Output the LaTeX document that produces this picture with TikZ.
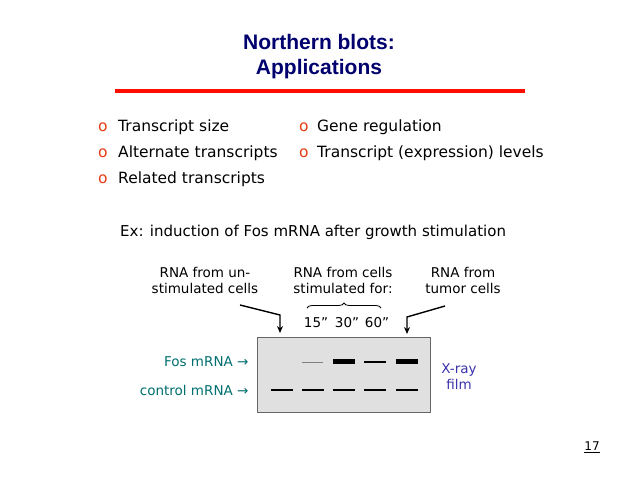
\documentclass[tikz,border=0pt]{standalone}
\usepackage{fontspec}
\setmainfont{DejaVu Sans}
\newfontfamily\titlefont{Liberation Sans}
\usetikzlibrary{decorations.pathreplacing,arrows.meta}
\definecolor{navy}{RGB}{0,0,110}
\definecolor{teal2}{RGB}{0,110,110}
\definecolor{filmblue}{RGB}{60,50,170}
\definecolor{bulred}{RGB}{230,60,20}
\tikzset{
  bul/.style={anchor=west,inner sep=0pt,font=\fontsize{15.5}{18}\selectfont},
  lbl/.style={align=center,font=\fontsize{13.5}{16}\selectfont},
  arr/.style={line width=1.4pt,-{Stealth[length=7pt,width=6pt]}},
  band/.style={line width=#1},
}
\begin{document}
\begin{tikzpicture}[x=1pt,y=-1pt]
\useasboundingbox (0,0) rectangle (638,478);
\node[font=\titlefont\bfseries\fontsize{21}{25}\selectfont,text=navy,align=center] (title) at (319,57) {Northern blots:\\Applications};
\draw[red!90!orange,line width=3.5pt] (115,91) -- (525,91);
\foreach \y/\t [count=\i] in {127/Transcript size,153/Alternate transcripts,179/Related transcripts}{
  \node[bul,text=bulred] (o\i) at (98,\y) {o};
  \node[bul] (b\i) at (118,\y) {\t};}
\node[bul,text=bulred] (p1) at (299,127) {o};
\node[bul] (c1) at (317,127) {Gene regulation};
\node[bul,text=bulred] (p2) at (299,153) {o};
\node[bul] (c2) at (317,153) {Transcript (expression) levels};
\node[anchor=west,inner sep=0pt,font=\fontsize{15}{18}\selectfont] (ex) at (120,232) {Ex: induction of Fos mRNA after growth stimulation};
\node[lbl] (l1) at (205,280) {RNA from un-\\stimulated cells};
\node[lbl] (l2) at (343,280) {RNA from cells\\stimulated for:};
\node[lbl] (l3) at (463,280) {RNA from\\tumor cells};
\draw[decorate,decoration={brace,amplitude=5pt},line width=0.8pt] (307,308) -- (381,308);
\node[lbl] (t1) at (316,323) {15"};
\node[lbl] (t2) at (347,323) {30"};
\node[lbl] (t3) at (377,323) {60"};
\coordinate (a1) at (240,305); \coordinate (a2) at (280,315); \coordinate (a3) at (280,333);
\draw[arr] (a1) -- (a2) -- (a3);
\coordinate (r1) at (445,306); \coordinate (r2) at (407,317); \coordinate (r3) at (407,334);
\draw[arr] (r1) -- (r2) -- (r3);
\draw[fill=black!12,draw=black!60,line width=0.8pt] (257,337) rectangle (430,412);
\foreach \x in {282,313,344,375,407}{
  \draw[band=2pt] (\x-11,390) -- (\x+11,390);}
\draw[band=0.8pt,black!50] (302,362) -- (323,362);
\draw[band=5pt] (333,362) -- (355,362);
\draw[band=2.5pt] (364,362) -- (386,362);
\draw[band=5pt] (396,362) -- (418,362);
\node[anchor=east,text=teal2,font=\fontsize{13.5}{16}\selectfont] (fos) at (252,362) {Fos mRNA →};
\node[anchor=east,text=teal2,font=\fontsize{13.5}{16}\selectfont] (ctl) at (252,390) {control mRNA →};
\node[lbl,text=filmblue] (film) at (459,377) {X-ray\\film};
\node[font=\fontsize{12}{14}\selectfont] (pg) at (592,447) {\underline{17}};
\end{tikzpicture}
\end{document}
